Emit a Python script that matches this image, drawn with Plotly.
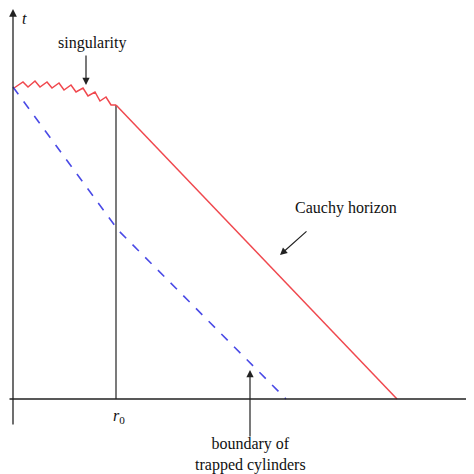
import plotly.graph_objects as go

# pixel-like diagram coordinates (y downward)
zig_x = [6, 15, 20, 27, 32, 39, 44, 51, 56, 63, 68, 75, 80, 87, 92, 98, 103, 108]
zig_y = [80, 74, 79, 73, 79, 74, 80, 75, 82, 77, 84, 80, 88, 84, 93, 89, 97, 97]
cauchy_x = [108, 389]
cauchy_y = [97, 391]
r0_x = [108, 108]
r0_y = [97, 391]
bnd_x = [5, 110, 278]
bnd_y = [79, 222, 391]

fig = go.Figure()
fig.add_trace(go.Scatter(x=r0_x, y=r0_y, mode="lines", line=dict(color="#333", width=1.3)))
fig.add_trace(go.Scatter(x=zig_x, y=zig_y, mode="lines", line=dict(color="#f0484e", width=1.5)))
fig.add_trace(go.Scatter(x=cauchy_x, y=cauchy_y, mode="lines", line=dict(color="#f0484e", width=1.5)))
fig.add_trace(go.Scatter(x=bnd_x, y=bnd_y, mode="lines", line=dict(color="#4a4ae6", width=1.6, dash="dash")))

def arrow(x0, y0, x1, y1, w=1.2):
    fig.add_annotation(x=x1, y=y1, ax=x0, ay=y0, xref="x", yref="y", axref="x", ayref="y",
                       showarrow=True, arrowhead=2, arrowsize=1.2, arrowwidth=w, arrowcolor="#222", text="")

# axes
arrow(5, 418, 5, 1, 1.3)
arrow(0, 391, 473, 391, 1.3)
# labels
f = dict(family="Liberation Serif", size=16, color="#111")
def txt(x, y, t, **kw):
    fig.add_annotation(x=x, y=y, xref="x", yref="y", text=t, showarrow=False, font=f, **kw)
txt(16, 10, "<i>t</i>")
txt(84, 35, "singularity")
arrow(78, 46, 78, 77)
txt(338, 200, "Cauchy horizon")
arrow(300, 222, 272, 247)
txt(111, 408, "<i>r</i><sub>0</sub>")
arrow(242, 430, 242, 362)
txt(242, 446, "boundary of<br>trapped cylinders")

fig.update_layout(width=474, height=474, margin=dict(l=0, r=0, t=0, b=0, pad=0, autoexpand=False),
                  plot_bgcolor="white", paper_bgcolor="white", showlegend=False)
fig.update_xaxes(range=[0, 474], visible=False)
fig.update_yaxes(range=[474, 0], visible=False)
fig.write_html("out.html")
